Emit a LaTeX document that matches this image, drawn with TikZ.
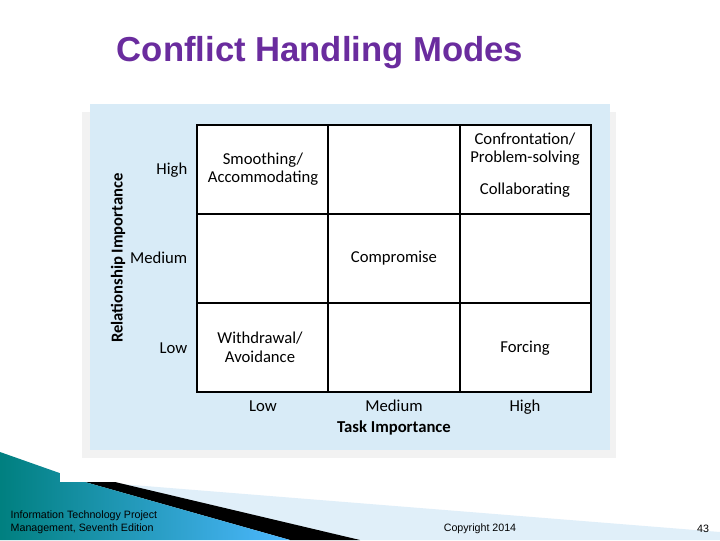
\documentclass[tikz,border=0pt]{standalone}
\usepackage{fontspec}
\setmainfont{Carlito}
\newfontfamily\arialf{Liberation Sans}
\definecolor{panel}{HTML}{D8EBF7}
\definecolor{titlec}{HTML}{6A2C9E}
\begin{document}
\begin{tikzpicture}[x=0.75pt,y=-0.75pt,
  cell/.style={font=\fontsize{12.5}{14}\selectfont,align=center},
  axis/.style={font=\fontsize{12.5}{14}\selectfont,anchor=base},
  foot/.style={font=\arialf\fontsize{8}{9.5}\selectfont,align=left,anchor=west}]
\useasboundingbox (0,0) rectangle (720,540);
\fill[white] (0,0) rectangle (720,540);
% shadow
\fill[gray!10] (82,112) rectangle (616,458);
\fill[panel] (90,104) rectangle (610,450);
% bottom decoration
\fill[panel!80] (95,482) -- (720,532) -- (720,540) -- (340,540) -- cycle;
\fill[black] (85,482) -- (115,482) -- (360,540) -- (290,540) -- cycle;
\shade[left color=cyan!50!black, right color=cyan!60!blue!70] (0,452) -- (85,482) -- (290,540) -- (0,540) -- cycle;
\fill[white] (60,468) rectangle (90,482);
\node[foot] (f1) at (6,522) {Information Technology Project\\Management, Seventh Edition};
\node[font=\arialf\fontsize{8}{9.5}\selectfont] (f2) at (480,529) {Copyright 2014};
\node[font=\arialf\fontsize{8}{9.5}\selectfont] (f3) at (703,529) {43};
% title
\node[font=\arialf\bfseries\fontsize{26}{30}\selectfont, text=titlec] (title) at (320,53) {Conflict Handling Modes};
% grid
\fill[white] (197,125) rectangle (591,392);
\draw[line width=0.8pt] (197,125) rectangle (591,392);
\foreach \x in {328,460} \draw[line width=0.8pt] (\x,125) -- (\x,392);
\foreach \y in {214,303} \draw[line width=0.8pt] (197,\y) -- (591,\y);
\node[cell] (c11) at (263,169) {Smoothing/\\Accommodating};
\node[cell] (c13) at (525,165) {Confrontation/\\Problem-solving\\[10pt]Collaborating};
\node[cell] (c22) at (394,258) {Compromise};
\node[cell] (c31) at (260,347) {Withdrawal/\\Avoidance};
\node[cell] (c33) at (525,348) {Forcing};
\node[axis,anchor=base east] (yh) at (192,174) {High};
\node[axis,anchor=base east] (ym) at (192,263) {Medium};
\node[axis,anchor=base east] (yl) at (192,353) {Low};
\node[axis] (xl) at (263,411) {Low};
\node[axis] (xm) at (394,411) {Medium};
\node[axis] (xh) at (525,411) {High};
\node[axis,font=\bfseries\fontsize{12.5}{14}\selectfont] (xt) at (394,432) {Task Importance};
\node[font=\bfseries\fontsize{12.5}{14}\selectfont,rotate=90] (yt) at (118,258) {Relationship Importance};
\end{tikzpicture}
\end{document}
